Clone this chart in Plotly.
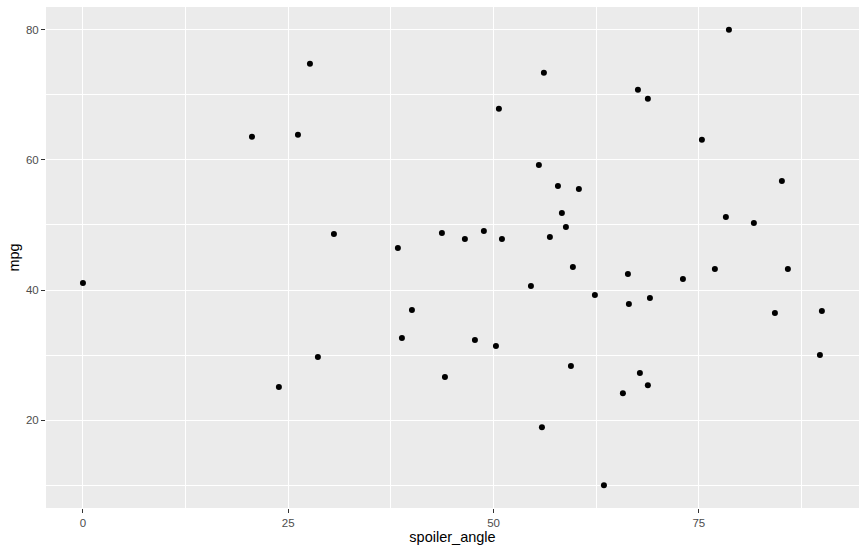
import plotly.graph_objects as go

# points
spoiler_angle = [0, 20.58, 23.86, 26.18, 27.64, 28.61, 30.56, 38.35, 38.84, 40.06,
                 43.71, 44.08, 46.51, 47.73, 48.82, 50.29, 50.65, 51.02, 54.55, 55.52,
                 55.89, 56.13, 56.86, 57.84, 58.32, 58.81, 59.42, 59.66, 60.39, 62.34,
                 63.44, 65.75, 66.36, 66.48, 67.58, 67.82, 68.79, 68.79, 69.04, 73.06,
                 75.37, 76.95, 78.29, 78.66, 81.70, 84.26, 85.11, 85.84, 89.74, 89.98]
mpg = [41.08, 63.54, 25.08, 63.85, 74.77, 29.69, 48.62, 46.46, 32.62, 36.92,
       48.77, 26.62, 47.85, 32.31, 49.08, 31.38, 67.85, 47.85, 40.62, 59.23,
       18.92, 73.38, 48.15, 56.0, 51.85, 49.69, 28.31, 43.54, 55.54, 39.23,
       10.0, 24.15, 42.46, 37.85, 70.77, 27.23, 69.38, 25.38, 38.77, 41.69,
       63.08, 43.23, 51.23, 80.0, 50.31, 36.46, 56.77, 43.23, 30.0, 36.77]

x_ticks = [0, 25, 50, 75]
y_ticks = [20, 40, 60, 80]

fig = go.Figure()
fig.add_trace(go.Scatter(x=spoiler_angle, y=mpg, mode="markers",
                         marker=dict(color="black", size=6)))

axis_style = dict(
    showgrid=True, gridcolor="white", gridwidth=1.3,
    zeroline=False, showline=False,
    ticks="outside", ticklen=4, tickwidth=1, tickcolor="#333333",
    tickfont=dict(family="Liberation Sans, Arial", size=11.5, color="#4D4D4D"),
    title_font=dict(family="Liberation Sans, Arial", size=14.5, color="black"),
)

fig.update_xaxes(axis_style, range=[-4.5, 94.5], tickvals=x_ticks,
                 minor=dict(tickvals=[12.5, 37.5, 62.5, 87.5], showgrid=True,
                            gridcolor="white", gridwidth=0.6, ticks=""),
                 title=dict(text="spoiler_angle", standoff=4))
fig.update_yaxes(axis_style, range=[6.5, 83.5], tickvals=y_ticks,
                 minor=dict(tickvals=[10, 30, 50, 70], showgrid=True,
                            gridcolor="white", gridwidth=0.6, ticks=""),
                 title=dict(text="mpg", standoff=2))

fig.update_layout(
    width=867, height=553,
    margin=dict(l=46, r=8, t=7, b=45, autoexpand=False),
    plot_bgcolor="#EBEBEB", paper_bgcolor="white",
    showlegend=False,
)

# drop the default page margin so the figure sits at the window corner
fig.write_html("out.html", config={"displayModeBar": False},
               post_script="document.body.style.margin='0';")
